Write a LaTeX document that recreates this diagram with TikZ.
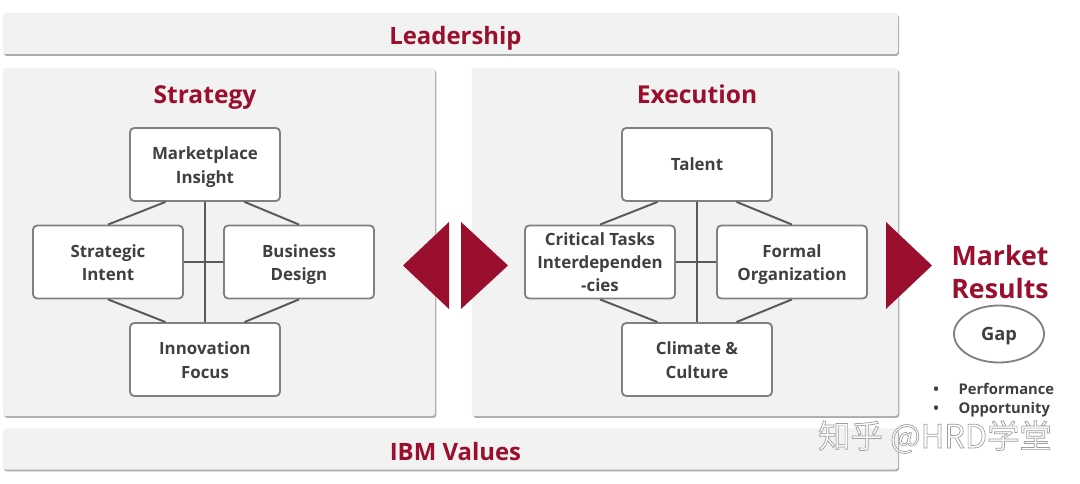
\documentclass[tikz,border=0pt]{standalone}
\usepackage{fontspec}
\setmainfont{Open Sans}
\newfontfamily\cjkfont{Noto Sans CJK SC}
\usetikzlibrary{shapes.geometric, positioning, calc, shadows}
\definecolor{ibmred}{HTML}{990F2D}
\definecolor{panelgray}{HTML}{F2F2F2}
\definecolor{boxline}{HTML}{808080}
\definecolor{linkgray}{HTML}{5A5A5A}
\definecolor{txtgray}{HTML}{404040}

\begin{document}
\begin{tikzpicture}[x=0.025cm,y=-0.025cm,
  bar/.style={rectangle,fill=panelgray,rounded corners=2pt,minimum width=22.375cm,minimum height=1.025cm,text=ibmred,font=\bfseries\fontsize{17}{20}\selectfont,text height=15.8pt,text depth=0pt,execute at begin node=\hspace*{7pt},drop shadow={shadow xshift=0.7pt,shadow yshift=-1.3pt,fill=black!55,opacity=.6}},
  panel/.style={rectangle,fill=panelgray,rounded corners=2pt,minimum height=8.7cm,drop shadow={shadow xshift=0.9pt,shadow yshift=-1.3pt,fill=black!55,opacity=.6}},
  title/.style={text=ibmred,font=\bfseries\fontsize{17.5}{20}\selectfont},
  elem/.style={rectangle,draw=boxline,fill=white,line width=1.3pt,rounded corners=3pt,minimum width=3.75cm,minimum height=1.825cm,align=center,text=txtgray,font=\bfseries\fontsize{12}{16.4}\selectfont},
  twoline/.style={text height=26.4pt,text depth=0pt},
  link/.style={draw=linkgray,line width=1.4pt},
  chev/.style={fill=ibmred}
]
  \fill[white] (0,0) rectangle (1080,484);
  \useasboundingbox (0,0) rectangle (1080,484);
  % frame
  \node[bar](lead) at (450.5,33.5){Leadership};
  \node[panel,minimum width=10.8cm](strat) at (219,242){};
  \node[panel,minimum width=10.65cm](exec) at (685,242){};
  \node[bar](vals) at (450.5,449){IBM Values};
  \node[title,anchor=base](stitle) at (205,104){Strategy};
  \node[title,anchor=base](etitle) at (697,104){Execution};
  % strategy
  \node[elem,twoline](mi) at (205,164.5){Marketplace\\Insight};
  \node[elem,twoline](si) at (108,262){Strategic\\Intent};
  \node[elem,twoline](bd) at (299,262){Business\\Design};
  \node[elem,twoline](inf) at (205,359.5){Innovation\\Focus};
  \draw[link](mi.south)--(inf.north); \draw[link](si.east)--(bd.west);
  \draw[link]($(mi.south west)!0.24!(mi.south east)$)--(si.north);
  \draw[link]($(mi.south west)!0.76!(mi.south east)$)--(bd.north);
  \draw[link](si.south)--($(inf.north west)!0.24!(inf.north east)$);
  \draw[link](bd.south)--($(inf.north west)!0.76!(inf.north east)$);
  % execution
  \node[elem](tal) at (697,164.5){Talent};
  \node[elem](ct) at (600,262){Critical Tasks\\Interdependen\\-cies};
  \node[elem,twoline](fo) at (792,262){Formal\\Organization};
  \node[elem,twoline](cc) at (697,359.5){Climate \&\\Culture};
  \draw[link](tal.south)--(cc.north); \draw[link](ct.east)--(fo.west);
  \draw[link]($(tal.south west)!0.24!(tal.south east)$)--(ct.north);
  \draw[link]($(tal.south west)!0.76!(tal.south east)$)--(fo.north);
  \draw[link](ct.south)--($(cc.north west)!0.24!(cc.north east)$);
  \draw[link](fo.south)--($(cc.north west)!0.76!(cc.north east)$);
  % arrows between blocks
  \fill[chev](449,222)--(449,309)--(403,265.5)--cycle;
  \fill[chev](461,222)--(461,309)--(508,265.5)--cycle;
  \fill[chev](886,222)--(886,309)--(932,265.5)--cycle;
  % results
  \node[title,align=center,font=\bfseries\fontsize{19}{24}\selectfont](mr) at (1000,272){Market\\Results};
  \node[ellipse,draw=boxline,line width=1.3pt,minimum width=2.25cm,minimum height=1.425cm,text=txtgray,font=\bfseries\fontsize{13}{16}\selectfont,text depth=0pt](gap) at (999,334){Gap};
  \node[anchor=west,align=left,inner sep=0pt,text=txtgray,font=\bfseries\fontsize{10.5}{13.5}\selectfont](pts) at (933,400){\textbullet\hspace{14pt}Performance\\\textbullet\hspace{14pt}Opportunity};
  \node[font=\cjkfont\fontsize{23}{25}\selectfont](wm) at (935,437){\color{white}\special{pdf:literal direct 2 Tr 0.5 w 0.62 G}知乎 @HRD学堂\special{pdf:literal direct 0 Tr}};
\end{tikzpicture}
\end{document}
